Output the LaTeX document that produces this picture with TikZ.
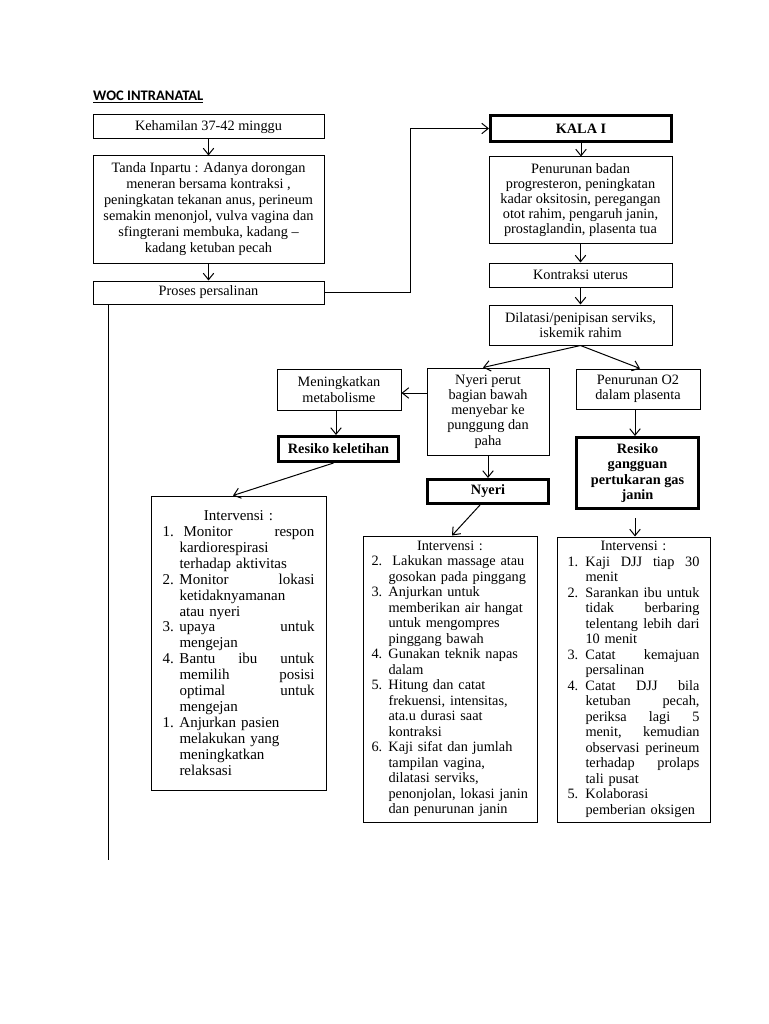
\documentclass[tikz,border=0pt]{standalone}
\usepackage{fontspec}
\setmainfont{Liberation Serif}
\newfontfamily\titlefont{Carlito}
\usetikzlibrary{arrows.meta}
\setlength\parindent{0pt}
\newlength\nw
\newlength\tw
\newcommand\itl[2]{\leavevmode\hbox to\nw{#1\hfil}\hbox to\tw{#2\hfil}}
\newcommand\ihead{\leavevmode\hbox to\dimexpr\nw+\tw\relax{\hfil Intervensi :\hfil}}
\begin{document}
\begin{tikzpicture}[x=1pt,y=-1pt,
  box/.style={draw,line width=1pt,inner sep=0pt,align=center,font=\fontsize{14.3}{15.5}\selectfont},
  bbox/.style={box,line width=2.6pt,font=\fontsize{14.3}{15.5}\selectfont\bfseries},
  arr/.style={-{Straight Barb[length=6.5pt,width=10.5pt]},line width=1pt},
  ln/.style={line width=1pt},
  list/.style n args={3}{box,align=left,text width=#1,execute at begin node={\setlength\nw{#2}\setlength\tw{#3}}}
]
\fill[white] (0,0) rectangle (768,1024);
\useasboundingbox (0,0) rectangle (768,1024);

\node[anchor=base west,inner sep=0pt,font=\titlefont\bfseries\fontsize{14.6}{16}\selectfont] (title) at (93,101) {\underline{WOC INTRANATAL}};

\node[box,minimum width=231,minimum height=24] (keh) at (208.5,127) {Kehamilan 37-42 minggu};
\node[box,minimum width=231,minimum height=107,font=\fontsize{14.3}{16}\selectfont] (tanda) at (208.5,209.5) {Tanda Inpartu : Adanya dorongan\\ meneran bersama kontraksi ,\\ peningkatan tekanan anus, perineum\\ semakin menonjol, vulva vagina dan\\ sfingterani membuka, kadang --\\ kadang ketuban pecah};
\node[box,minimum width=231,minimum height=23] (proses) at (208.5,292.5) {Proses persalinan};

\node[bbox,minimum width=181.4,minimum height=26.4] (kala) at (581,128.5) {KALA I};
\node[box,minimum width=183,minimum height=86,font=\fontsize{14.3}{14.8}\selectfont] (penurunan) at (580.5,200) {Penurunan badan\\ progresteron, peningkatan\\ kadar oksitosin, peregangan\\ otot rahim, pengaruh janin,\\ prostaglandin, plasenta tua};
\node[box,minimum width=183,minimum height=24] (kontraksi) at (580.5,275) {Kontraksi uterus};
\node[box,minimum width=183,minimum height=40] (dilatasi) at (580.5,325) {Dilatasi/penipisan serviks,\\ iskemik rahim};

\node[box,minimum width=124,minimum height=41] (meningkat) at (339,389.5) {Meningkatkan\\ metabolisme};
\node[box,minimum width=122,minimum height=87,font=\fontsize{14.3}{15.25}\selectfont] (nyeriperut) at (488,411.5) {Nyeri perut\\ bagian bawah\\ menyebar ke\\ punggung dan\\ paha};
\node[box,minimum width=124,minimum height=40] (peno) at (638,389) {Penurunan O2\\ dalam plasenta};

\node[bbox,minimum width=120.4,minimum height=25.4] (resikokel) at (338.5,449) {Resiko keletihan};
\node[bbox,minimum width=121.4,minimum height=24.4] (nyeri) at (488,491.5) {Nyeri};
\node[bbox,minimum width=122.4,minimum height=71.4] (resikogas) at (637.5,473) {Resiko\\ gangguan\\ pertukaran gas\\ janin};

\node[list={152pt}{17pt}{135pt},minimum width=175,minimum height=294,font=\fontsize{15}{15.9}\selectfont] (int1) at (238.5,643) {%
\ihead\\
\itl{1.}{\hspace{4pt}Monitor\hfill respon}\\
\itl{}{kardiorespirasi}\\
\itl{}{terhadap aktivitas}\\
\itl{2.}{Monitor\hfill lokasi}\\
\itl{}{ketidaknyamanan}\\
\itl{}{atau nyeri}\\
\itl{3.}{upaya\hfill untuk}\\
\itl{}{mengejan}\\
\itl{4.}{Bantu\hfill ibu\hfill untuk}\\
\itl{}{memilih\hfill posisi}\\
\itl{}{optimal\hfill untuk}\\
\itl{}{mengejan}\\
\itl{1.}{Anjurkan pasien}\\
\itl{}{melakukan yang}\\
\itl{}{meningkatkan}\\
\itl{}{relaksasi}};

\node[list={157pt}{17pt}{140pt},minimum width=174,minimum height=286] (int2) at (450,679) {%
\ihead\\
\itl{2.}{\hspace{4pt}Lakukan massage atau}\\
\itl{}{gosokan pada pinggang}\\
\itl{3.}{Anjurkan untuk}\\
\itl{}{memberikan air hangat}\\
\itl{}{untuk mengompres}\\
\itl{}{pinggang bawah}\\
\itl{4.}{Gunakan teknik napas}\\
\itl{}{dalam}\\
\itl{5.}{Hitung dan catat}\\
\itl{}{frekuensi, intensitas,}\\
\itl{}{ata.u durasi saat}\\
\itl{}{kontraksi}\\
\itl{6.}{Kaji sifat dan jumlah}\\
\itl{}{tampilan vagina,}\\
\itl{}{dilatasi serviks,}\\
\itl{}{penonjolan, lokasi janin}\\
\itl{}{dan penurunan janin}};

\node[list={132pt}{18pt}{114pt},minimum width=153,minimum height=285] (int3) at (633.5,679.5) {%
\ihead\\
\itl{1.}{Kaji\hfill DJJ\hfill tiap\hfill 30}\\
\itl{}{menit}\\
\itl{2.}{Sarankan\hfill ibu\hfill untuk}\\
\itl{}{tidak\hfill berbaring}\\
\itl{}{telentang\hfill lebih\hfill dari}\\
\itl{}{10 menit}\\
\itl{3.}{Catat\hfill kemajuan}\\
\itl{}{persalinan}\\
\itl{4.}{Catat\hfill DJJ\hfill bila}\\
\itl{}{ketuban\hfill pecah,}\\
\itl{}{periksa\hfill lagi\hfill 5}\\
\itl{}{menit,\hfill kemudian}\\
\itl{}{observasi\hfill perineum}\\
\itl{}{terhadap\hfill prolaps}\\
\itl{}{tali pusat}\\
\itl{5.}{Kolaborasi}\\
\itl{}{pemberian oksigen}};

% connectors
\coordinate (bend) at (410,200);
\coordinate (gasout) at (635,518);
\coordinate (leftend) at (108,860);

\draw[arr] (keh) -- (tanda);
\draw[arr] (tanda) -- (proses);
\draw[arr] (proses.east) -- (proses.east -| bend) |- (kala.west);
\draw[ln] (proses.south -| leftend) -- (leftend);

\draw[arr] (kala.south) -- (kala.south |- penurunan.north);
\draw[arr] (penurunan) -- (kontraksi);
\draw[arr] (kontraksi) -- (dilatasi);
\draw[arr] (dilatasi.south) -- ([xshift=-5pt]nyeriperut.north);
\draw[arr] (dilatasi.south) -- ([xshift=2pt]peno.north);
\draw[arr] ([yshift=18.5pt]nyeriperut.west) -- ([yshift=18.5pt]nyeriperut.west -| meningkat.east);
\draw[arr] ([xshift=-3pt]meningkat.south) -- ([xshift=-3pt]meningkat.south |- resikokel.north);
\draw[arr] (nyeriperut.south) -- (nyeriperut.south |- nyeri.north);
\draw[arr] ([xshift=-3pt]peno.south) -- ([xshift=-3pt]peno.south |- resikogas.north);
\draw[arr] ([xshift=-5pt]resikokel.south) -- ([xshift=-5.5pt]int1.north);
\draw[arr] ([xshift=-8pt]nyeri.south) -- ([xshift=2pt]int2.north);
\draw[arr] (gasout) -- (gasout |- int3.north);
\end{tikzpicture}
\end{document}
